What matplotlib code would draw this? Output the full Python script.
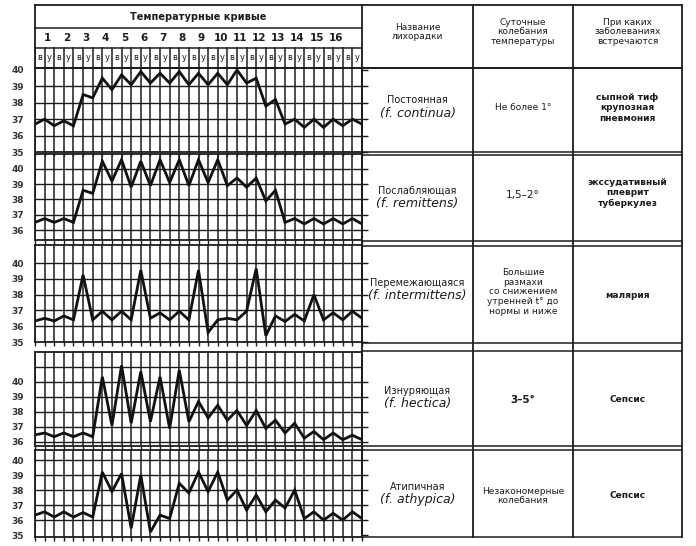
import matplotlib.pyplot as plt

W, H = 696, 546

# ---------------- data ----------------
days = list(range(1, 17))
slot_labels = ['в', 'у'] * 17

temp_continua = [36.7, 37.0, 36.6, 36.9, 36.6, 38.5, 38.3, 39.5, 38.8, 39.7, 39.1, 39.9,
                 39.2, 39.8, 39.2, 39.9, 39.1, 39.8, 39.1, 39.8, 39.1, 40.0, 39.2, 39.5,
                 37.8, 38.2, 36.7, 37.0, 36.5, 37.0, 36.5, 37.0, 36.6, 37.0, 36.7]
temp_remittens = [36.5, 36.75, 36.5, 36.75, 36.5, 38.6, 38.4, 40.5, 39.2, 40.6, 38.8, 40.5,
                  38.9, 40.6, 39.1, 40.6, 38.9, 40.6, 39.1, 40.6, 38.9, 39.4, 38.8, 39.4,
                  37.9, 38.6, 36.5, 36.75, 36.4, 36.75, 36.4, 36.75, 36.4, 36.75, 36.4]
temp_intermittens = [36.33, 36.5, 36.33, 36.65, 36.4, 39.25, 36.4, 36.95, 36.4, 36.95, 36.4, 39.55,
                     36.5, 36.85, 36.4, 36.95, 36.4, 39.55, 35.6, 36.4, 36.5, 36.4, 36.95, 39.65,
                     35.4, 36.65, 36.3, 36.75, 36.33, 38.0, 36.4, 36.85, 36.4, 36.95, 36.5]
temp_hectica = [36.47, 36.6, 36.35, 36.6, 36.35, 36.6, 36.35, 40.35, 37.1, 41.1, 37.25, 40.7,
                37.35, 40.35, 36.9, 40.8, 37.35, 38.7, 37.6, 38.45, 37.45, 38.1, 37.1, 38.1,
                36.9, 37.45, 36.6, 37.25, 36.25, 36.7, 36.15, 36.6, 36.15, 36.45, 36.15]
temp_athypica = [36.33, 36.55, 36.2, 36.55, 36.2, 36.5, 36.2, 39.2, 37.9, 39.1, 35.45, 39.0,
                 35.2, 36.33, 36.1, 38.45, 37.8, 39.2, 37.9, 39.2, 37.33, 38.0, 36.67, 37.67,
                 36.55, 37.33, 36.8, 38.0, 36.1, 36.55, 36.0, 36.45, 36.0, 36.55, 36.1]

fever_names = ['Постоянная', 'Послабляющая', 'Перемежающаяся', 'Изнуряющая', 'Атипичная']
latin_names = ['(f. continua)', '(f. remittens)', '(f. intermittens)', '(f. hectica)', '(f. athypica)']
daily_range = ['Не более 1°', '1,5–2°',
               'Большие\nразмахи\nсо снижением\nутренней t° до\nнормы и ниже',
               '3–5°', 'Незакономерные\nколебания']
diseases = ['сыпной тиф\nкрупозная\nпневмония', 'экссудативный\nплеврит\nтуберкулез',
            'малярия', 'Сепсис', 'Сепсис']
headers = ['Название\nлихорадки', 'Суточные\nколебания\nтемпературы',
           'При каких\nзаболеваниях\nвстречаются']
title = 'Температурные кривые'

series = [temp_continua, temp_remittens, temp_intermittens, temp_hectica, temp_athypica]
panel_labels = [[35, 36, 37, 38, 39, 40], [36, 37, 38, 39, 40], [35, 36, 37, 38, 39, 40],
                [36, 37, 38, 39, 40], [35, 36, 37, 38, 39, 40]]

# ---------------- layout (pixels) ----------------
GX0, GX1 = 35, 362
COLS = [362, 473, 573, 682]
panels = [  # top, bottom, ylo, yhi
    (68, 152, 35.0, 40.12),
    (154, 240, 35.35, 40.97),
    (245, 342, 35.0, 41.14),
    (352, 446, 35.73, 42.0),
    (450, 537, 34.87, 40.67),
]
row_bounds = [(68, 152), (155, 241), (246, 343), (351, 446), (450, 537)]
name_y = [(100, 113), (191, 203), (283, 296), (391, 403), (487, 499)]
range_y = [107, 195, 292, 400, 496]
dis_y = [108, 193, 295, 400, 495]

INK = '#1c1c1c'
plt.rcParams['font.family'] = ['DejaVu Sans']

fig = plt.figure(figsize=(W / 100, H / 100), dpi=100)
fig.patch.set_facecolor('white')


def box(x0, y0, x1, y1):
    return [x0 / W, 1 - y1 / H, (x1 - x0) / W, (y1 - y0) / H]


bg = fig.add_axes([0, 0, 1, 1])
bg.set_xlim(0, W)
bg.set_ylim(H, 0)
bg.axis('off')

# outer frame and header lines
bg.plot([GX0, COLS[-1]], [5, 5], color=INK, lw=1.3)
bg.plot([GX0, GX0], [5, 68], color=INK, lw=1.3)
bg.plot([GX0, GX1], [28, 28], color=INK, lw=1.1)
bg.plot([GX0, GX1], [48, 48], color=INK, lw=1.1)
bg.plot([GX0, COLS[-1]], [68, 68], color=INK, lw=1.3)
for cx in COLS:
    bg.plot([cx, cx], [5, 537], color=INK, lw=1.3)
for (t, b) in row_bounds:
    bg.plot([COLS[0], COLS[-1]], [t, t], color=INK, lw=1.1)
    bg.plot([COLS[0], COLS[-1]], [b, b], color=INK, lw=1.1)

bg.text((GX0 + GX1) / 2, 17, title, ha='center', va='center', fontsize=7, fontweight='bold', color=INK)

# header texts of table
for i, h in enumerate(headers):
    bg.text((COLS[i] + COLS[i + 1]) / 2, 32, h, ha='center', va='center', fontsize=6.5,
            color=INK, linespacing=1.05)

# rows
for r in range(5):
    c1 = (COLS[0] + COLS[1]) / 2
    bg.text(c1, name_y[r][0], fever_names[r], ha='center', va='center', fontsize=7, color=INK)
    bg.text(c1, name_y[r][1], latin_names[r], ha='center', va='center', fontsize=9,
            style='italic', color=INK)
    big = r in (1, 3)
    bg.text((COLS[1] + COLS[2]) / 2, range_y[r], daily_range[r], ha='center', va='center',
            fontsize=7.5 if big else 6.5, fontweight='bold' if r == 3 else 'normal',
            color=INK, linespacing=1.1)
    bg.text((COLS[2] + COLS[3]) / 2, dis_y[r], diseases[r], ha='center', va='center',
            fontsize=6.5, fontweight='bold', color=INK, linespacing=1.15)

# header strip: days and morning/evening slots
hdr = fig.add_axes(box(GX0, 28, GX1, 68))
hdr.set_xlim(0, 34)
hdr.set_ylim(0, 2)
hdr.axis('off')
for i in range(35):
    hdr.plot([i, i], [0, 1], color=INK, lw=1.1)
for d in days:
    hdr.text(2 * d - 1 + 0.3, 1.5, str(d), ha='center', va='center', fontsize=7.5,
             fontweight='bold', color=INK)
for i, s in enumerate(slot_labels):
    hdr.text(i + 0.5, 0.5, s, ha='center', va='center', fontsize=6, color=INK)

# temperature panels
for k, (t, b, lo, hi) in enumerate(panels):
    ax = fig.add_axes(box(GX0, t, GX1, b))
    ax.set_facecolor('none')
    ax.set_xlim(0, 34)
    ax.set_ylim(lo, hi)
    for i in range(35):
        ax.axvline(i, color=INK, lw=1.1, zorder=1)
    lvl = 35
    while lvl < hi - 0.15:
        if lvl > lo + 0.15:
            ax.axhline(lvl, color=INK, lw=1.0, zorder=1)
        lvl += 1
    ax.plot(range(len(series[k])), series[k], color='#111111', lw=2.0, zorder=3,
            solid_joinstyle='miter')
    ax.set_yticks(panel_labels[k])
    ax.set_yticklabels([str(v) for v in panel_labels[k]], fontsize=6.5, fontweight='bold',
                       color='#333333')
    ax.tick_params(axis='y', left=False, right=True, labelleft=True, direction='out',
                   length=4, width=1, color=INK, pad=4)
    ax.set_xticks(range(35))
    ax.tick_params(axis='x', bottom=True, labelbottom=False, direction='out', length=3,
                   width=1, color=INK)
    for sp in ax.spines.values():
        sp.set_color(INK)
        sp.set_linewidth(1.3)

fig.savefig('out.png', dpi=100, facecolor='white')
